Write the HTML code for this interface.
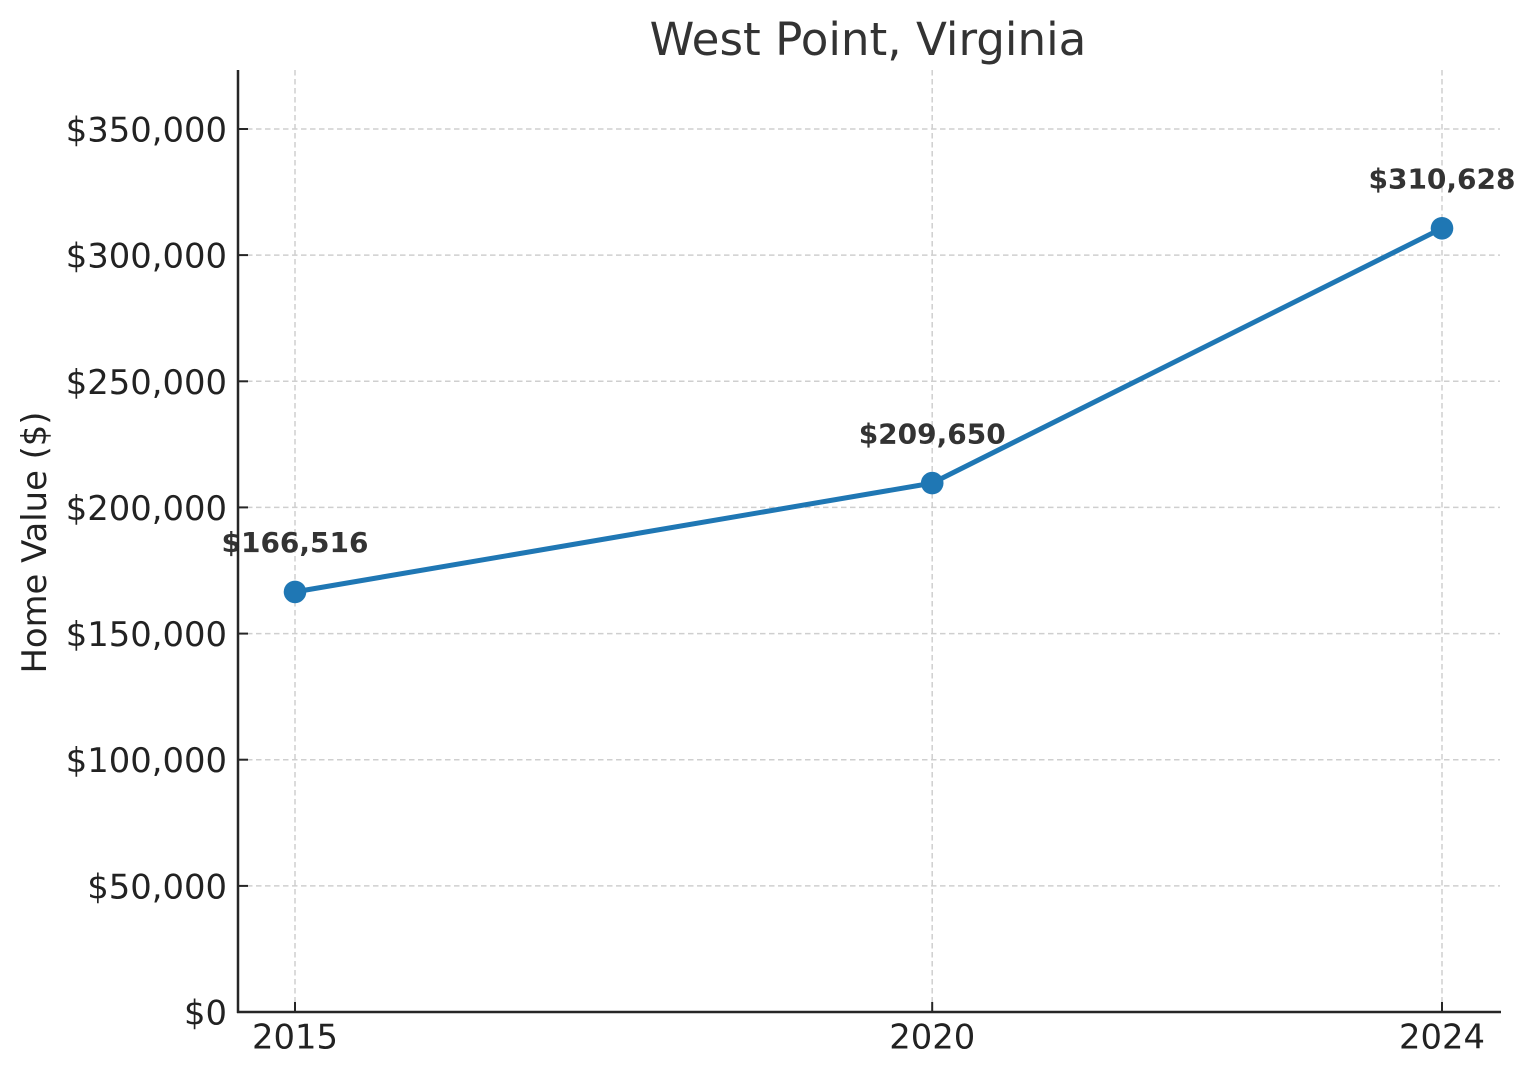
<!DOCTYPE html>
<html>
<head>
<meta charset="utf-8">
<style>
  html, body { margin: 0; padding: 0; background: #ffffff; }
  svg { display: block; }
  text { font-family: "DejaVu Sans", "Liberation Sans", sans-serif; }
</style>
</head>
<body>
<svg width="1536" height="1076" viewBox="0 0 1536 1076" xmlns="http://www.w3.org/2000/svg">
  <rect x="0" y="0" width="1536" height="1076" fill="#ffffff"/>

  <!-- Title -->
  <text x="868" y="55" font-size="45.2" fill="#333333" text-anchor="middle">West Point, Virginia</text>

  <!-- Horizontal gridlines -->
  <g stroke="#cfcfcf" stroke-width="1.5" stroke-dasharray="5.5,3.5" fill="none">
    <line x1="238" y1="129" x2="1500" y2="129"/>
    <line x1="238" y1="255.1" x2="1500" y2="255.1"/>
    <line x1="238" y1="381.3" x2="1500" y2="381.3"/>
    <line x1="238" y1="507.4" x2="1500" y2="507.4"/>
    <line x1="238" y1="633.6" x2="1500" y2="633.6"/>
    <line x1="238" y1="759.7" x2="1500" y2="759.7"/>
    <line x1="238" y1="885.9" x2="1500" y2="885.9"/>
    <!-- Vertical gridlines -->
    <line x1="295" y1="70" x2="295" y2="1012"/>
    <line x1="932.2" y1="70" x2="932.2" y2="1012"/>
    <line x1="1442" y1="70" x2="1442" y2="1012"/>
  </g>

  <!-- Data line -->
  <polyline points="295,591.9 932.2,483.1 1442,228.3" fill="none" stroke="#1f77b4" stroke-width="5" stroke-linejoin="round" stroke-linecap="round"/>
  <g fill="#1f77b4">
    <circle cx="295" cy="591.9" r="11.3"/>
    <circle cx="932.2" cy="483.1" r="11.3"/>
    <circle cx="1442" cy="228.3" r="11.3"/>
  </g>

  <!-- Annotations -->
  <g font-size="28" font-weight="bold" fill="#333333" text-anchor="middle">
    <text x="295" y="552">$166,516</text>
    <text x="932.2" y="443.5">$209,650</text>
    <text x="1442" y="188.5">$310,628</text>
  </g>

  <!-- Spines -->
  <g stroke="#262626" stroke-width="2.5" fill="none">
    <line x1="238" y1="70" x2="238" y2="1013"/>
    <line x1="237" y1="1012" x2="1501" y2="1012"/>
  </g>

  <!-- Ticks (inward) -->
  <g stroke="#262626" stroke-width="2" fill="none">
    <line x1="238" y1="129" x2="248" y2="129"/>
    <line x1="238" y1="255.1" x2="248" y2="255.1"/>
    <line x1="238" y1="381.3" x2="248" y2="381.3"/>
    <line x1="238" y1="507.4" x2="248" y2="507.4"/>
    <line x1="238" y1="633.6" x2="248" y2="633.6"/>
    <line x1="238" y1="759.7" x2="248" y2="759.7"/>
    <line x1="238" y1="885.9" x2="248" y2="885.9"/>
    <line x1="238" y1="1012" x2="248" y2="1012"/>
    <line x1="295" y1="1012" x2="295" y2="1002"/>
    <line x1="932.2" y1="1012" x2="932.2" y2="1002"/>
    <line x1="1442" y1="1012" x2="1442" y2="1002"/>
  </g>

  <!-- Y tick labels -->
  <g font-size="33.8" fill="#222222" text-anchor="end">
    <text x="227" y="141.5">$350,000</text>
    <text x="227" y="267.6">$300,000</text>
    <text x="227" y="393.8">$250,000</text>
    <text x="227" y="519.9">$200,000</text>
    <text x="227" y="646.1">$150,000</text>
    <text x="227" y="772.2">$100,000</text>
    <text x="227" y="898.4">$50,000</text>
    <text x="227" y="1024.5">$0</text>
  </g>

  <!-- X tick labels -->
  <g font-size="33.8" fill="#222222" text-anchor="middle">
    <text x="295" y="1048.5">2015</text>
    <text x="932.2" y="1048.5">2020</text>
    <text x="1442" y="1048.5">2024</text>
  </g>

  <!-- Y axis label -->
  <text x="46" y="542.5" font-size="33.8" fill="#222222" text-anchor="middle" transform="rotate(-90 46 542.5)">Home Value ($)</text>
</svg>
</body>
</html>
